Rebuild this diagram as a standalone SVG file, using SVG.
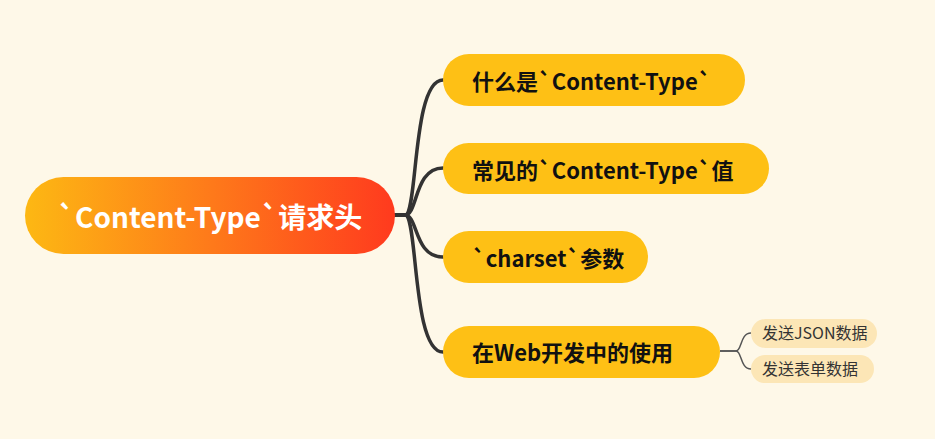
<svg xmlns="http://www.w3.org/2000/svg" width="935" height="439" viewBox="0 0 935 439">
<defs>
<linearGradient id="rootGrad" x1="0" y1="0" x2="1" y2="0">
<stop offset="0" stop-color="#FDB813"/>
<stop offset="0.5" stop-color="#FE7A1A"/>
<stop offset="1" stop-color="#FF3A1E"/>
</linearGradient>
<style>
.main{fill:#FEC015;}
.sub{fill:#FCE6B6;}
.t1{font-family:"Noto Sans CJK SC","Noto Sans",sans-serif;font-size:22px;font-weight:bold;fill:#111;}
.t2{font-family:"Noto Sans CJK SC","Noto Sans",sans-serif;font-size:16px;fill:#333;}
.root{font-family:"Noto Sans CJK SC","Noto Sans",sans-serif;font-size:28px;font-weight:bold;fill:#fff;}
.c1{fill:none;stroke:#333;stroke-width:3.5;stroke-linecap:round;}
.c2{fill:none;stroke:#555;stroke-width:1.5;}
</style>
</defs>
<rect width="935" height="439" fill="#FEF8E8"/>
<g id="connectors">
<path class="c1" d="M395,215 L405,215 C418,215 412,80 443,80"/>
<path class="c1" d="M395,215 L405,215 C418,215 414,168 443,168"/>
<path class="c1" d="M395,215 L405,215 C418,215 414,257 443,257"/>
<path class="c1" d="M395,215 L405,215 C418,215 412,352 443,352"/>
<path class="c2" d="M720,351 L736,351 C742,351 740,333 751,333"/>
<path class="c2" d="M720,351 L736,351 C742,351 740,369 751,369"/>
</g>
<g id="root">
<rect x="25" y="177" width="370" height="77" rx="38.5" fill="url(#rootGrad)"/>
<text class="root" x="210" y="228" text-anchor="middle">`Content-Type`请求头</text>
</g>
<g id="n1">
<rect class="main" x="443" y="54" width="302" height="52" rx="26"/>
<text class="t1" x="472" y="90">什么是`Content-Type`</text>
</g>
<g id="n2">
<rect class="main" x="443" y="143" width="326" height="51" rx="25.5"/>
<text class="t1" x="472" y="179">常见的`Content-Type`值</text>
</g>
<g id="n3">
<rect class="main" x="443" y="231" width="205" height="52" rx="26"/>
<text class="t1" x="472" y="267">`charset`参数</text>
</g>
<g id="n4">
<rect class="main" x="443" y="326" width="277" height="52" rx="26"/>
<text class="t1" x="472" y="361">在Web开发中的使用</text>
</g>
<g id="s1">
<rect class="sub" x="751" y="319" width="126" height="29" rx="14.5"/>
<text class="t2" x="762" y="339">发送JSON数据</text>
</g>
<g id="s2">
<rect class="sub" x="751" y="355" width="123" height="28" rx="14"/>
<text class="t2" x="762" y="375">发送表单数据</text>
</g>
</svg>
